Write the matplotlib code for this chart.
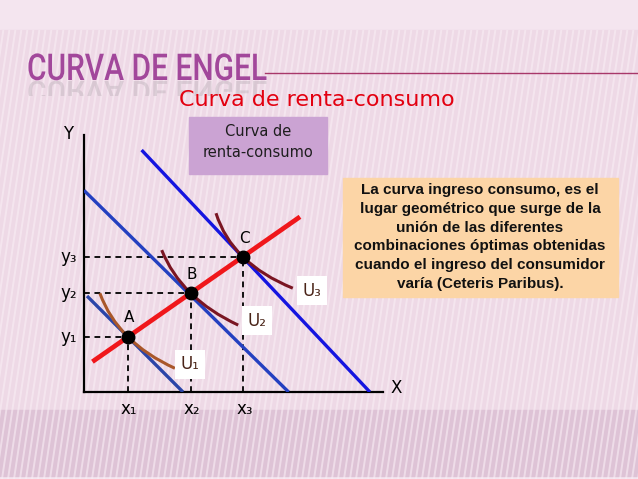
import numpy as np
import matplotlib
matplotlib.use("Agg")
import matplotlib.pyplot as plt
from matplotlib.path import Path
from matplotlib.patches import PathPatch, Rectangle
from matplotlib.textpath import TextPath
from matplotlib.font_manager import FontProperties
from matplotlib.transforms import Affine2D

W, H = 638, 479

# optimal points (tangency of budget line and indifference curve)
pt_names = ['A', 'B', 'C']
pt_x = [1.45, 3.55, 5.3]
pt_y = [1.85, 3.3, 4.5]
x_labels = ['x₁', 'x₂', 'x₃']
y_labels = ['y₁', 'y₂', 'y₃']

# budget lines: drawn from bl_x0 to the x intercept
bl_x0 = [0.1, 0.0, 1.92]
bl_xint = [3.3, 6.82, 9.53]
bl_yint = [3.3, 6.72, 10.1]
bl_colors = ['#2b45a8', '#2440c0', '#1515e0']

# income-consumption curve
icc_x = [0.28, 7.2]
icc_y = [1.01, 5.84]

# indifference curves: start point, end point (tangency point is pt_x/pt_y)
u_start = [(0.53, 3.29), (2.59, 4.73), (4.4, 5.96)]
u_end = [(3.03, 0.79), (5.14, 2.23), (6.96, 3.46)]
u_colors = ['#a9572a', '#7a1522', '#7a1522']
u_labels = ['U₁', 'U₂', 'U₃']
u_label_pos = [(3.53, 0.93), (5.77, 2.37), (7.6, 3.37)]

box_text = ("La curva ingreso consumo, es el\nlugar geométrico que surge de la\n"
            "unión de las diferentes\ncombinaciones óptimas obtenidas\n"
            "cuando el ingreso del consumidor\nvaría (Ceteris Paribus).")

fig = plt.figure(figsize=(W / 100, H / 100), dpi=100)

# ---- slide background (pixel coordinates) ----
bg = fig.add_axes([0, 0, 1, 1], zorder=0)
bg.set_xlim(0, W)
bg.set_ylim(H, 0)
bg.axis('off')
bg.add_patch(Rectangle((0, 0), W, H, color='#f4e5ef', zorder=0))
bg.add_patch(Rectangle((0, 30), W, 380, color='#eed9e6', zorder=0))
bg.add_patch(Rectangle((0, 410), W, 66, color='#dec3d6', zorder=0))
for x0 in range(-100, W + 20, 6):
    bg.plot([x0 + 0.15 * 449, x0], [30, H], color='#f9eef5', lw=1.4,
            alpha=0.6, zorder=1, solid_capstyle='butt')

# title with faded reflection
fp = FontProperties(family='Roboto', weight='medium')
tp = TextPath((0, 0), 'CURVA DE ENGEL', size=40, prop=fp)
ext = tp.get_extents()
sx = 238 / ext.width
sy = 27 / ext.height
title = PathPatch(tp, transform=Affine2D().scale(sx, -sy).translate(27, 80) + bg.transData,
                  facecolor='#a2479b', edgecolor='none', zorder=5)
bg.add_patch(title)
refl = PathPatch(tp, transform=Affine2D().scale(sx, sy * 0.8).translate(27, 81) + bg.transData,
                 facecolor='#b8adb5', edgecolor='none', alpha=0.4, zorder=4)
bg.add_patch(refl)
clip = Rectangle((0, 81), 300, 15, transform=bg.transData)
refl.set_clip_path(clip)
bg.plot([265, W], [72.5, 72.5], color='#a8386a', lw=1, zorder=5)

bg.text(317, 100, 'Curva de renta-consumo', color='#e30010', fontsize=16,
        ha='center', va='center', zorder=5)

# purple box
bg.add_patch(Rectangle((189, 117), 138, 57, color='#cba3d3', zorder=3))
bg.text(258, 142, 'Curva de\nrenta-consumo', fontsize=10.5, color='#1e1e1e',
        ha='center', va='center', linespacing=1.45, zorder=5)

# peach box
bg.add_patch(Rectangle((343, 178), 275, 119, color='#fcd5a6', zorder=3))
bg.text(480, 237, box_text, fontsize=11, fontweight='bold', family='Liberation Sans',
        color='#111111', ha='center', va='center', linespacing=1.42, zorder=5)

# ---- diagram ----
ax = fig.add_axes([84 / W, (H - 392) / H, 300 / W, 262 / H], zorder=2)
ax.patch.set_alpha(0)
ax.set_xlim(0, 10)
ax.set_ylim(0, 262 / 30)
for s in ['top', 'right']:
    ax.spines[s].set_visible(False)
ax.spines['left'].set_linewidth(1.6)
ax.spines['bottom'].set_linewidth(1.6)
ax.spines['left'].set_bounds(0, 8.57)
ax.spines['bottom'].set_bounds(0, 9.95)
ax.set_xticks([])
ax.set_yticks([])

ax.text(-0.53, 8.6, 'Y', fontsize=12, ha='center', va='center')
ax.text(10.4, 0.12, 'X', fontsize=12, ha='center', va='center', clip_on=False)

# budget lines
for x0, xi, yi, c in zip(bl_x0, bl_xint, bl_yint, bl_colors):
    xs = np.array([x0, xi])
    ax.plot(xs, yi * (1 - xs / xi), color=c, lw=2.4, zorder=3, solid_capstyle='butt')

# dashed guides
for x, y in zip(pt_x, pt_y):
    ax.plot([0, x], [y, y], color='black', lw=1.3, ls=(0, (3.2, 2.6)), zorder=2)
    ax.plot([x, x], [0, y], color='black', lw=1.3, ls=(0, (3.2, 2.6)), zorder=2)

# income-consumption curve
ax.plot(icc_x, icc_y, color='#f0171b', lw=3.4, zorder=4, solid_capstyle='butt')

# indifference curves as quadratic Bezier through the tangency point
for (p0, p2, x, y, c) in zip(u_start, u_end, pt_x, pt_y, u_colors):
    p1 = (2 * x - 0.5 * (p0[0] + p2[0]), 2 * y - 0.5 * (p0[1] + p2[1]))
    path = Path([p0, p1, p2], [Path.MOVETO, Path.CURVE3, Path.CURVE3])
    ax.add_patch(PathPatch(path, fill=False, edgecolor=c, lw=2.2, zorder=5))

for lab, pos in zip(u_labels, u_label_pos):
    ax.text(pos[0], pos[1], lab, fontsize=12, color='#4a2418', ha='center', va='center',
            zorder=6, bbox=dict(facecolor='white', edgecolor='none', pad=4))

# optimal points
ax.plot(pt_x, pt_y, 'o', color='black', ms=9, zorder=7)
for name, x, y in zip(pt_names, pt_x, pt_y):
    ax.text(x + 0.05, y + 0.63, name, fontsize=11, ha='center', va='center', zorder=7)

for lab, x in zip(x_labels, pt_x):
    ax.text(x + 0.05, -0.55, lab, fontsize=12, ha='center', va='center', clip_on=False)
for lab, y in zip(y_labels, pt_y):
    ax.text(-0.22, y, lab, fontsize=12, ha='right', va='center', clip_on=False)

fig.savefig('out.png', dpi=100)
